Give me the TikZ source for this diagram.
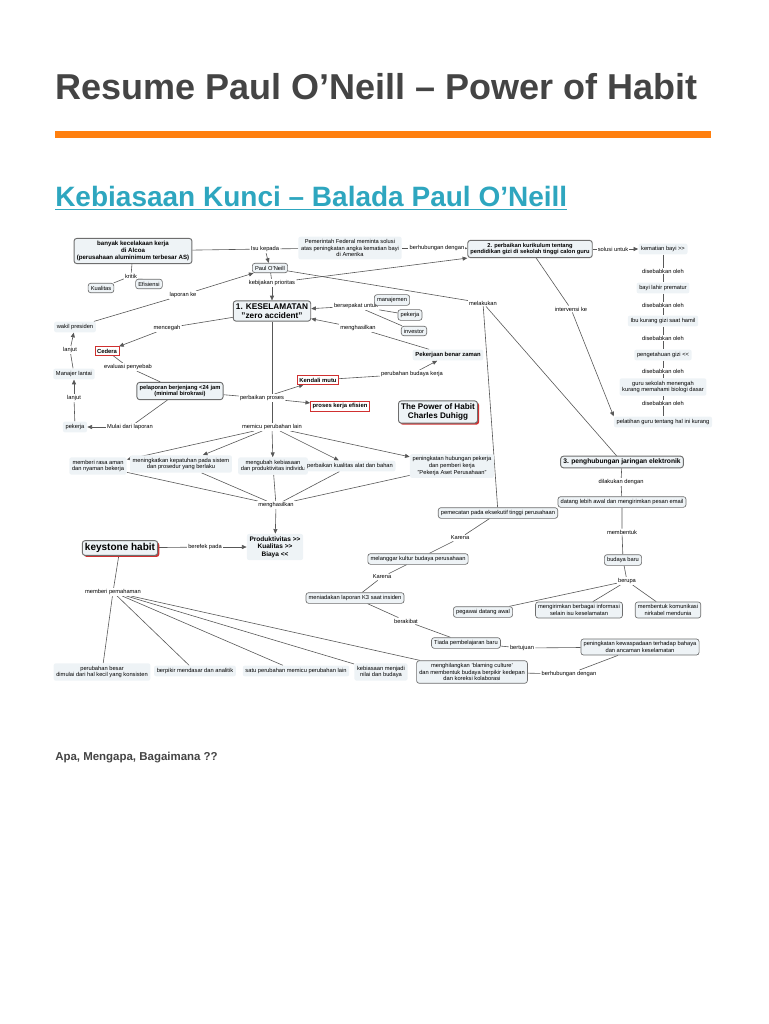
\documentclass[tikz,border=0pt]{standalone}
\usepackage{fontspec}
\setmainfont{Liberation Sans}
\usetikzlibrary{backgrounds,arrows.meta}
\definecolor{boxfill}{HTML}{EEF3F6}
\definecolor{boxline}{HTML}{6E6E6E}
\definecolor{ttl}{HTML}{444444}
\definecolor{sub}{HTML}{2EA6BF}
\definecolor{org}{HTML}{FF7F0E}
\definecolor{redb}{HTML}{D03030}
\newcommand{\myGrt}{{>}{>}}
\newcommand{\myLss}{{<}{<}}
\tikzset{
  every node/.style={font=\fontsize{4.3}{4.9}\selectfont, align=center, inner sep=1.5pt},
  bx/.style={draw=boxline, line width=0.5pt, rounded corners=2pt, fill=boxfill, inner sep=2pt},
  bbx/.style={bx, font=\fontsize{4.6}{5.3}\selectfont\bfseries, line width=0.7pt},
  sft/.style={fill=boxfill, rounded corners=1.5pt, inner sep=2pt},
  rbx/.style={draw=redb, line width=0.5pt, fill=white, font=\fontsize{4.4}{5}\selectfont\bfseries, inner sep=1.6pt},
  lbl/.style={fill=white, inner sep=0.8pt},
  cn/.style={draw=boxline!80!black, line width=0.45pt},
  ar/.style={cn, -{Triangle[length=3.5pt,width=3pt]}},
  shd/.style={bx, line width=0.7pt, font=\fontsize{7.5}{8.5}\selectfont\bfseries,
     preaction={fill=redb, transform canvas={xshift=1.2pt,yshift=-1.2pt}}},
}
\begin{document}
\begin{tikzpicture}[x=0.75pt,y=-0.75pt]
\path[use as bounding box] (0,0) rectangle (768,1024);
% header
\node[anchor=west, text=ttl, font=\fontsize{27}{30}\selectfont\bfseries, inner sep=0] (title) at (55,87) {Resume Paul O’Neill – Power of Habit};
\fill[org] (55,130.5) rectangle (711,137.5);
\node[anchor=west, text=sub, font=\fontsize{21}{24}\selectfont\bfseries, inner sep=0] (subt) at (55,198) {\underline{Kebiasaan Kunci – Balada Paul O’Neill}};
\node[anchor=west, text=ttl, font=\fontsize{8.6}{10}\selectfont\bfseries, inner sep=0] (apa) at (55,758) {Apa, Mengapa, Bagaimana ??};

\node[bbx] (A) at (133,251) {banyak kecelakaan kerja\\di Alcoa\\(perusahaan aluminimum terbesar AS)};
\node[lbl] (kritik) at (131,276) {kritik};
\node[bx] (kual) at (101,288) {Kualitas};
\node[bx] (efi) at (149,284) {Efisiensi};
\node[lbl] (isu) at (265,249) {Isu kepada};
\node[sft] (pem) at (350,248) {Pemerintah Federal meminta solusi\\atas peningkatan angka kematian bayi\\di Amerika};
\node[lbl] (berh1) at (437,248) {berhubungan dengan};
\node[bbx, font=\fontsize{4.3}{4.9}\selectfont\bfseries] (n2) at (530,249) {2. perbaikan kurikulum tentang\\pendidikan gizi di sekolah tinggi calon guru};
\node[lbl] (solusi) at (613,249) {solusi untuk};
\node[sft] (kb) at (663,249) {kematian bayi \myGrt};
\node[lbl] (d1) at (663,271) {disebabkan oleh};
\node[sft] (blp) at (663,288) {bayi lahir prematur};
\node[lbl] (d2) at (663,305) {disebabkan oleh};
\node[sft] (ibu) at (663,321) {Ibu kurang gizi saat hamil};
\node[lbl] (d3) at (663,338) {disebabkan oleh};
\node[sft] (peng) at (663,355) {pengetahuan gizi \myLss};
\node[lbl] (d4) at (663,371) {disebabkan oleh};
\node[sft] (guru) at (663,387) {guru sekolah menengah\\kurang memahami biologi dasar};
\node[lbl] (d5) at (663,403) {disebabkan oleh};
\node[sft] (pel) at (663,422) {pelatihan guru tentang hal ini kurang};
\node[lbl] (interv) at (571,309) {intervensi ke};

\node[bx] (paul) at (270,268) {Paul O’Neill};
\node[lbl] (kebij) at (272,283) {kebijakan prioritas};
\node[bbx, font=\fontsize{6.2}{6.8}\selectfont\bfseries] (k1) at (272,311) {1. KESELAMATAN\\"zero accident"};
\node[lbl] (laporke) at (183,295) {laporan ke};
\node[lbl] (bersep) at (356,306) {bersepakat untuk};
\node[bx] (man) at (392,300) {manajemen};
\node[bx] (pkj2) at (410,315) {pekerja};
\node[bx] (inv) at (414,331) {investor};
\node[lbl] (mengh1) at (358,328) {menghasilkan};
\node[sft, font=\fontsize{4.4}{5}\selectfont\bfseries] (pbz) at (448,355) {Pekerjaan benar zaman};
\node[lbl] (pbk) at (412,374) {perubahan budaya kerja};
\node[lbl] (melak) at (483,303) {melakukan};

\node[sft] (wapres) at (75,327) {wakil presiden};
\node[lbl] (lj1) at (70,350) {lanjut};
\node[sft] (manl) at (74,374) {Manajer lantai};
\node[lbl] (lj2) at (74,398) {lanjut};
\node[sft] (pkj1) at (75,427) {pekerja};
\node[rbx] (ced) at (107,351) {Cedera};
\node[lbl] (menceg) at (167,328) {mencegah};
\node[lbl] (evap) at (128,367) {evaluasi penyebab};
\node[bbx, font=\fontsize{4.3}{4.9}\selectfont\bfseries] (plp) at (180,391) {pelaporan berjenjang <24 jam\\(minimal birokrasi)};
\node[lbl] (mulai) at (130,427) {Mulai dari laporan};
\node[lbl] (pproses) at (262,398) {perbaikan proses};
\node[rbx] (kmutu) at (318,380) {Kendali mutu};
\node[rbx] (pke) at (340,406) {proses kerja efisien};
\node[shd, font=\fontsize{6.1}{6.9}\selectfont\bfseries] (poh) at (438,412) {The Power of Habit\\Charles Duhigg};

\node[lbl] (memicu) at (272,427) {memicu perubahan lain};
\node[sft] (e1) at (98,466) {memberi rasa aman\\dan nyaman bekerja};
\node[sft] (e2) at (181,464) {meningkatkan kepatuhan pada sistem\\dan prosedur yang berlaku};
\node[sft] (e3) at (273,466) {mengubah kebiasaan\\dan produktivitas individu};
\node[sft] (e4) at (350,466) {perbaikan kualitas alat dan bahan};
\node[sft] (e5) at (452,466) {peningkatan hubungan pekerja\\dan pemberi kerja\\"Pekerja Aset Perusahaan"};
\node[lbl] (mengh2) at (276,505) {menghasilkan};
\node[sft, font=\fontsize{4.9}{5.5}\selectfont\bfseries] (prod) at (275,547) {Produktivitas \myGrt\\Kualitas \myGrt\\Biaya \myLss};
\node[shd] (key) at (120,548) {keystone habit};
\node[lbl] (beref) at (205,547) {berefek pada};
\node[lbl] (mpem) at (113,592) {memberi pemahaman};
\node[sft] (f1) at (102,672) {perubahan besar\\dimulai dari hal kecil yang konsisten};
\node[sft] (f2) at (195,671) {berpikir mendasar dan analitik};
\node[sft] (f3) at (296,671) {satu perubahan memicu  perubahan lain};
\node[sft] (f4) at (381,672) {kebiasaan menjadi\\nilai dan budaya};
\node[bx] (f5) at (472,672) {menghilangkan 'blaming culture'\\dan membentuk budaya berpikir kedepan\\dan koreksi kolaborasi};

\node[bx] (pmc) at (498,513) {pemecatan pada eksekutif tinggi perusahaan};
\node[lbl] (kr1) at (460,538) {Karena};
\node[bx] (mlg) at (418,559) {melanggar kultur budaya perusahaan};
\node[lbl] (kr2) at (382,577) {Karena};
\node[bx] (mnd) at (355,598) {meniadakan laporan K3 saat insiden};
\node[lbl] (berak) at (406,621) {berakibat};
\node[bx] (tpb) at (466,643) {Tiada pembelajaran baru};
\node[lbl] (bertj) at (522,648) {bertujuan};
\node[bx] (pkw) at (640,647) {peningkatan kewaspadaan terhadap bahaya\\dan ancaman keselamatan};
\node[lbl] (berh2) at (569,674) {berhubungan dengan};

\node[bbx, font=\fontsize{5}{5.6}\selectfont\bfseries] (n3) at (622,462) {3. penghubungan jaringan elektronik};
\node[lbl] (dilak) at (621,482) {dilakukan dengan};
\node[bx] (dtg) at (622,502) {datang lebih awal dan mengirimkan pesan email};
\node[lbl] (memb) at (622,532) {membentuk};
\node[bx] (bdb) at (623,560) {budaya baru};
\node[lbl] (berupa) at (627,581) {berupa};
\node[bx] (g1) at (483,612) {pegawai datang awal};
\node[bx] (g2) at (579,610) {mengirimkan berbagai informasi\\selain isu keselamatan};
\node[bx] (g3) at (668,610) {membentuk komunikasi\\nirkabel mendunia};

\begin{scope}[on background layer]
\draw[cn] (A) -- (kritik); \draw[cn] (kritik) -- (kual); \draw[ar] (kritik) -- (efi);
\draw[cn] (A) -- (isu) -- (pem); \draw[ar] (isu) -- (paul);
\draw[cn] (pem) -- (berh1); \draw[ar] (berh1) -- (n2);
\draw[cn] (n2) -- (solusi); \draw[ar] (solusi) -- (kb);
\draw[cn] (kb) -- (d1) -- (blp) -- (d2) -- (ibu) -- (d3) -- (peng) -- (d4) -- (guru) -- (d5) -- (pel);
\draw[cn] (n2) -- (interv); \draw[ar] (interv) -- (pel.north west);
\draw[cn] (paul) -- (kebij); \draw[ar] (kebij) -- (k1); \draw[ar] (kebij) -- (n2.south west);
\draw[cn] (wapres) -- (laporke); \draw[ar] (laporke) -- (paul);
\draw[cn] (paul) -- (melak); \draw[cn] (melak) -- (pmc); \draw[cn] (melak) -- (n3);
\draw[ar] (bersep) -- (k1); \draw[cn] (bersep) -- (man); \draw[cn] (bersep) -- (pkj2); \draw[cn] (bersep) -- (inv);
\draw[cn] (pbz) -- (mengh1); \draw[ar] (mengh1) -- (k1);
\draw[cn] (kmutu) -- (pbk); \draw[ar] (pbk) -- (pbz);
\draw[cn] (k1) -- (menceg); \draw[ar] (menceg) -- (ced);
\draw[cn] (ced) -- (evap) -- (plp);
\draw[cn] (plp) -- (mulai); \draw[ar] (mulai) -- (pkj1);
\draw[cn] (pkj1) -- (lj2); \draw[ar] (lj2) -- (manl); \draw[cn] (manl) -- (lj1); \draw[ar] (lj1) -- (wapres);
\draw[cn] (plp) -- (pproses); \draw[ar] (pproses) -- (kmutu); \draw[ar] (pproses) -- (pke);
\draw[cn] (k1) -- (memicu);
\foreach \e in {e1,e2,e3,e4,e5} {\draw[ar] (memicu) -- (\e); \draw[cn] (\e) -- (mengh2);}
\draw[ar] (mengh2) -- (prod);
\draw[cn] (key) -- (beref); \draw[ar] (beref) -- (prod);
\draw[cn] (key) -- (mpem);
\foreach \f in {f1,f2,f3,f4,f5} {\draw[cn] (mpem) -- (\f);}
\draw[cn] (pmc) -- (kr1) -- (mlg) -- (kr2) -- (mnd) -- (berak) -- (tpb) -- (bertj) -- (pkw);
\draw[cn] (f5) -- (berh2) -- (pkw);
\draw[cn] (n3) -- (dilak) -- (dtg) -- (memb) -- (bdb) -- (berupa);
\draw[cn] (berupa) -- (g1); \draw[cn] (berupa) -- (g2); \draw[cn] (berupa) -- (g3);
\end{scope}
\end{tikzpicture}
\end{document}
